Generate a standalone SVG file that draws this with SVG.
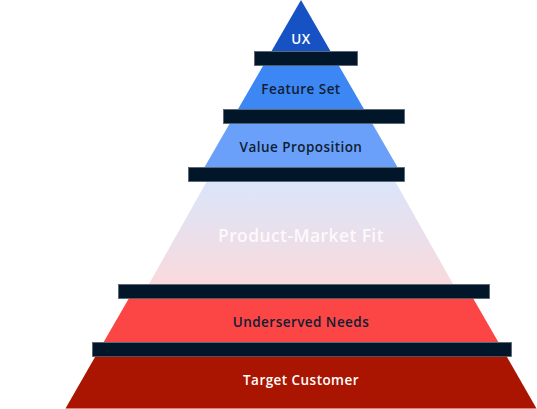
<svg xmlns="http://www.w3.org/2000/svg" width="537" height="409" viewBox="0 0 537 409">
<defs>
<linearGradient id="pmf" x1="0" y1="0" x2="0" y2="1">
<stop offset="0" stop-color="#dae5fb"/>
<stop offset="1" stop-color="#f9dadc"/>
</linearGradient>
<style>
.lbl{font-family:"Open Sans","Liberation Sans",sans-serif;font-weight:600;font-size:13.5px;letter-spacing:0.45px;text-anchor:middle}
.dark{fill:#0f1e33}
.light{fill:#ffffff}
.bar{fill:#011628;stroke:#55636f;stroke-width:0.8}
</style>
</defs>
<rect width="537" height="409" fill="#ffffff"/>
<g id="ux">
<polygon points="301,0 330.4,51 271.6,51" fill="#1652c3"/>
<text class="lbl light" x="301" y="44">UX</text>
</g>
<g id="feature-set">
<polygon points="263.5,65 338.5,65 363.9,109 238.1,109" fill="#3d87f5"/>
<text class="lbl dark" x="301" y="94">Feature Set</text>
</g>
<g id="value-proposition">
<polygon points="230,123 372,123 397.4,167 204.6,167" fill="#6aa0fa"/>
<text class="lbl dark" x="301" y="152">Value Proposition</text>
</g>
<g id="product-market-fit">
<polygon points="207,181 395,181 453,284 149,284" fill="url(#pmf)"/>
<text x="301" y="242" style="font-family:'Open Sans','Liberation Sans',sans-serif;font-weight:600;font-size:17.5px;letter-spacing:0.4px;text-anchor:middle" fill="#ffffff" fill-opacity="0.85">Product-Market Fit</text>
</g>
<g id="underserved-needs">
<polygon points="129.1,298 472.9,298 498.3,342 103.7,342" fill="#fc4545"/>
<text class="lbl dark" x="301" y="327">Underserved Needs</text>
</g>
<g id="target-customer">
<polygon points="95.6,356 506.4,356 536.5,408.5 65.5,408.5" fill="#a91500"/>
<text class="lbl light" x="301" y="385">Target Customer</text>
</g>
<g id="bars">
<rect class="bar" x="254.5" y="51.5" width="103" height="14"/>
<rect class="bar" x="223.5" y="109.5" width="181" height="14"/>
<rect class="bar" x="188.5" y="167.5" width="216" height="14"/>
<rect class="bar" x="118.5" y="284.5" width="371" height="14"/>
<rect class="bar" x="92.5" y="342.5" width="419" height="14"/>
</g>
</svg>
